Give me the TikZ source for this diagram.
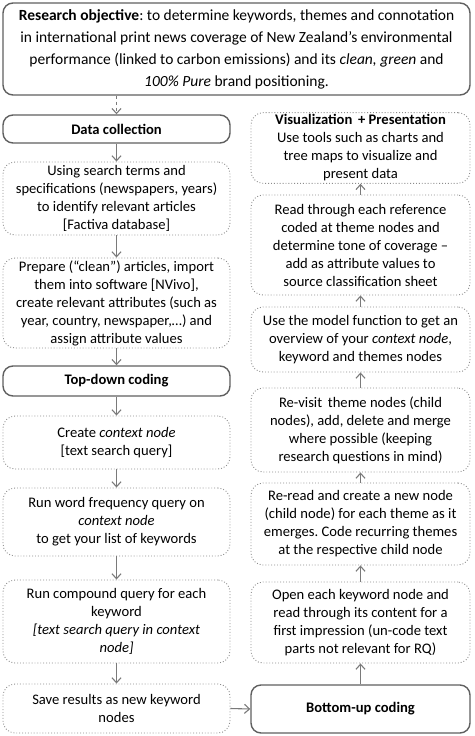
\documentclass[tikz,border=0pt]{standalone}
\usepackage{fontspec}
\setmainfont{Carlito}
\usepackage{xcolor}
\usetikzlibrary{arrows.meta}
\frenchspacing

\definecolor{boxline}{HTML}{606060}
\definecolor{dotline}{HTML}{8C8C8C}
\definecolor{arrowgray}{HTML}{7A7A7A}

\begin{document}
\begin{tikzpicture}[x=1pt,y=-1pt,
  solidbox/.style={draw=boxline,line width=1.4pt,rounded corners=10pt,
    align=center,inner sep=2pt,font=\fontsize{14.6}{18}\selectfont\bfseries},
  dotbox/.style={draw=dotline,line width=0.9pt,dotted,rounded corners=12pt,
    align=center,inner sep=2pt,font=\fontsize{14.6}{18}\selectfont},
  flow/.style={draw=arrowgray,line width=1.1pt,-{Straight Barb[length=5pt,width=9pt]}}]
\useasboundingbox (0,0) rectangle (474,736);

% research objective
\node [solidbox,font=\fontsize{15.5}{22}\selectfont,minimum width=467pt,minimum height=92pt] (obj) at (236.5,49)
  {\textbf{Research objective}: to determine keywords, themes and connotation\\
   in international print news coverage of New Zealand’s environmental\\
   performance (linked to carbon emissions) and its \textit{clean, green} and\\
   \textit{100\% Pure} brand positioning.};

% left column
\node [solidbox,minimum width=227pt,minimum height=28pt] (dc) at (116.5,129) {Data collection};
\node [dotbox,minimum width=227pt,minimum height=73pt] (search) at (116.5,198.5)
  {Using search terms and\\ specifications (newspapers, years)\\ to identify relevant articles\\ {[}Factiva database{]}};
\node [dotbox,minimum width=227pt,minimum height=90pt] (prep) at (116.5,303)
  {Prepare (“clean”) articles, import\\ them into software [NVivo],\\ create relevant attributes (such as\\ year, country, newspaper,…) and\\ assign attribute values};
\node [solidbox,minimum width=227pt,minimum height=30pt] (td) at (116.5,381) {Top-down coding};
\node [dotbox,minimum width=227pt,minimum height=53pt] (ctx) at (116.5,442.5)
  {Create \textit{context node}\\ {[}text search query{]}};
\node [dotbox,minimum width=227pt,minimum height=68pt] (freq) at (116.5,522)
  {Run word frequency query on\\ \textit{context node}\\ to get your list of keywords};
\node [dotbox,minimum width=227pt,minimum height=83pt] (comp) at (116.5,621.5)
  {Run compound query for each\\ keyword\\ \textit{[text search query in context}\\ \textit{node]}};
\node [dotbox,minimum width=227pt,minimum height=49pt] (save) at (116.5,708.5)
  {Save results as new keyword\\ nodes};

% right column
\node [dotbox,minimum width=219pt,minimum height=68pt] (vis) at (360.5,148)
  {\textbf{Visualization\, + Presentation}\\ Use tools such as charts and\\ tree maps to visualize and\\ present data};
\node [dotbox,minimum width=219pt,minimum height=100pt] (tone) at (360.5,245)
  {Read through each reference\\ coded at theme nodes and\\ determine tone of coverage –\\ add as attribute values to\\ source classification sheet};
\node [dotbox,minimum width=219pt,minimum height=65pt] (model) at (360.5,339.5)
  {Use the model function to get an\\ overview of your \textit{context node},\\ keyword and themes nodes};
\node [dotbox,minimum width=219pt,minimum height=84pt] (revisit) at (360.5,430)
  {Re-visit\, theme nodes (child\\ nodes), add, delete and merge\\ where possible (keeping\\ research questions in mind)};
\node [dotbox,minimum width=219pt,minimum height=82pt] (reread) at (360.5,524)
  {Re-read and create a new node\\ (child node) for each theme as it\\ emerges. Code recurring themes\\ at the respective child node};
\node [dotbox,minimum width=219pt,minimum height=81pt] (open) at (360.5,622.5)
  {Open each keyword node and\\ read through its content for a\\ first impression (un-code text\\ parts not relevant for RQ)};
\node [solidbox,minimum width=219pt,minimum height=48pt] (bu) at (360.5,709) {Bottom-up coding};

% connectors
\draw [flow,dashed] (obj.south -| dc.north) -- (dc.north);
\foreach \from/\to in {dc/search,search/prep,prep/td,td/ctx,ctx/freq,freq/comp,comp/save,
                       bu/open,open/reread,reread/revisit,revisit/model,model/tone,tone/vis}
  {\draw [flow] (\from) -- (\to);}
\draw [flow] (save.east) -- (bu.west);
\end{tikzpicture}
\end{document}
